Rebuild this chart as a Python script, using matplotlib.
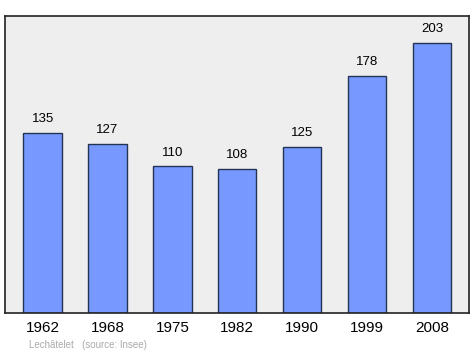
import matplotlib.pyplot as plt

years = ['1962', '1968', '1975', '1982', '1990', '1999', '2008']
population = [135, 127, 110, 108, 125, 178, 203]

plt.rcParams['font.family'] = ['Liberation Sans', 'DejaVu Sans']

fig = plt.figure(figsize=(4.74, 3.54), dpi=100)
ax = fig.add_axes([5 / 474, 41 / 354, 464 / 474, 297 / 354])
ax.set_facecolor('#eeeeee')

pos = range(len(years))
ax.bar(pos, population, width=0.59, color='#7799ff', edgecolor='#223355', linewidth=1.0)
for x, v in zip(pos, population):
    ax.text(x, v + 10.5, str(v), ha='center', va='center', fontsize=9.5)

ax.set_xlim(-0.58, 6.57)
ax.set_ylim(0, 223)
ax.set_yticks([])
ax.set_xticks(list(pos))
ax.set_xticklabels(years, fontsize=11)
ax.tick_params(axis='x', length=0, pad=6)
for s in ax.spines.values():
    s.set_color('#222222')
    s.set_linewidth(1.2)

fig.text(29 / 474, 9 / 354, 'Lechâtelet   (source: Insee)', fontsize=7, color='#aaaaaa', va='center')

fig.savefig('out.png', dpi=100)
